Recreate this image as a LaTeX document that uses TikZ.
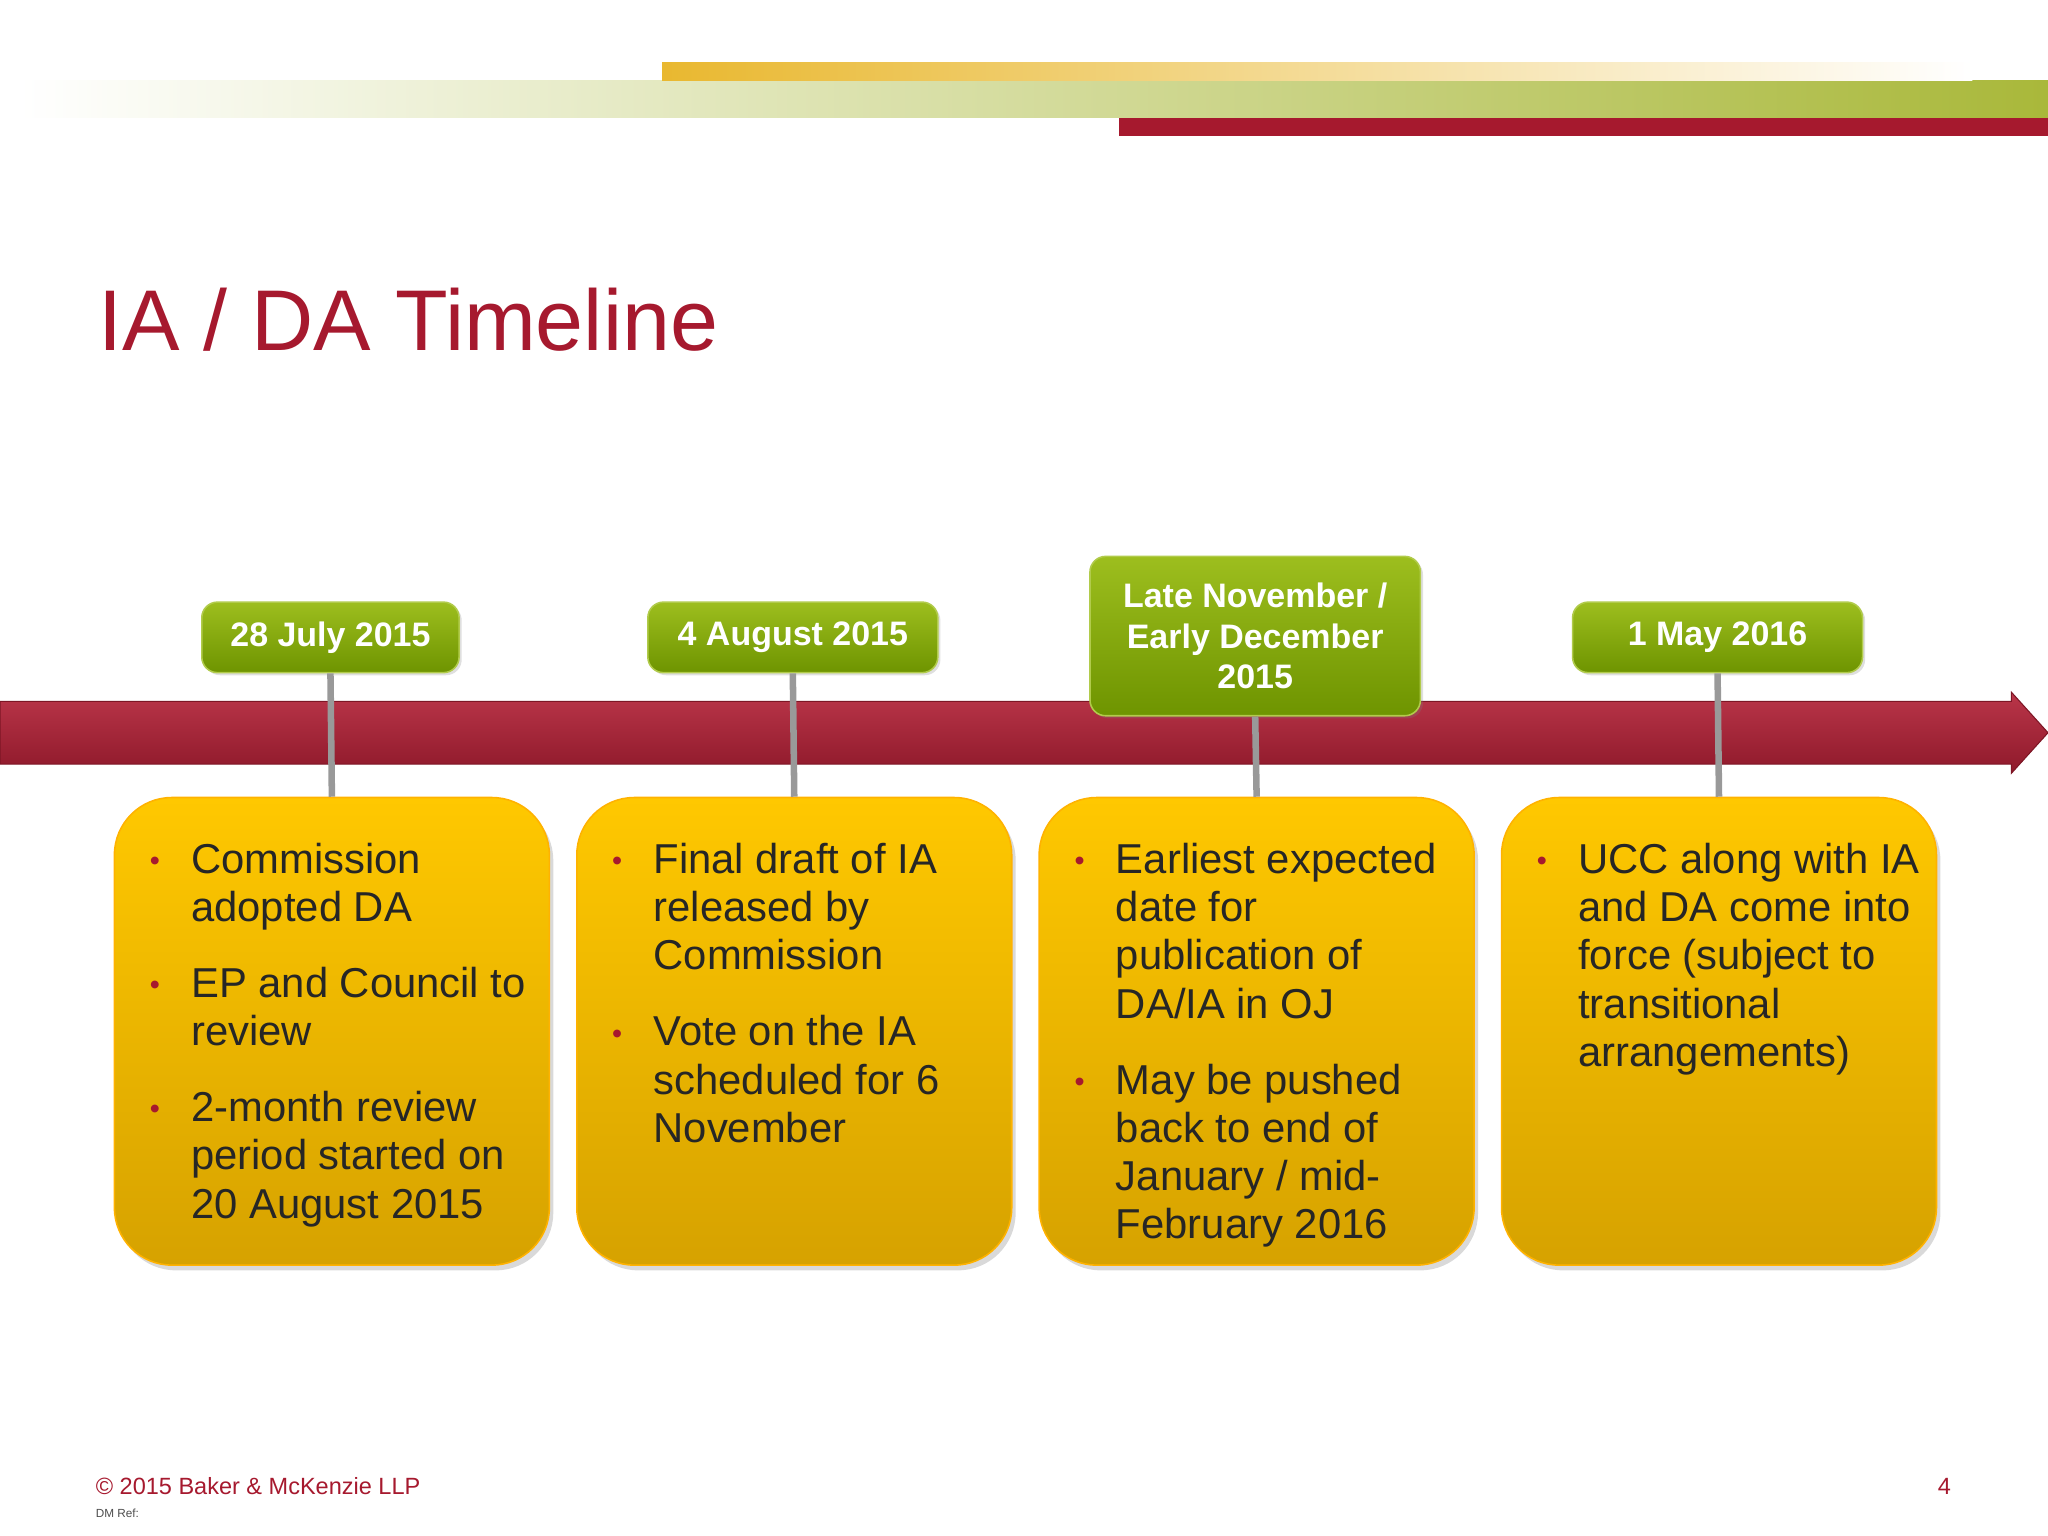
\documentclass[tikz,border=0pt]{standalone}
\usepackage{fontspec}
\setmainfont{Liberation Sans}
\usetikzlibrary{shadows,fadings}
\definecolor{dred}{HTML}{A6192E}
\definecolor{bred}{HTML}{B21F35}
\definecolor{olive}{HTML}{A9B83A}
\definecolor{gold}{HTML}{E9B830}
\definecolor{gtop}{HTML}{9DBE1E}
\definecolor{gbot}{HTML}{6E9400}
\definecolor{ytop}{HTML}{FFC800}
\definecolor{ybot}{HTML}{D6A200}
\tikzset{
 datebox/.style={rounded corners=6pt,top color=gtop,bottom color=gbot,draw=gtop!80!white,line width=0.6pt,
   text=white,font=\fontsize{13}{15.5}\selectfont\bfseries,align=center,drop shadow={opacity=0.25,shadow xshift=1pt,shadow yshift=-1pt}},
 infobox/.style={rounded corners=22pt,top color=ytop,bottom color=ybot,draw=ytop!70!orange,line width=0.6pt,
   drop shadow={opacity=0.3,shadow xshift=1.5pt,shadow yshift=-2pt}},
 stem/.style={draw=gray!80,line width=2.5pt},
 itemtext/.style={anchor=north west,align=left,text=black!85,font=\fontsize{16}{18.5}\selectfont,inner sep=0pt}
}
\newcommand{\bl}{\leavevmode\llap{\textcolor{dred}{\fontsize{11}{11}\selectfont\raisebox{1pt}{•}}\hspace{12pt}}}
\begin{document}
\begin{tikzpicture}[x=0.5pt,y=-0.5pt]
\useasboundingbox (0,0) rectangle (1568,1176);
% header bars
\shade[left color=white,right color=olive] (15,62) rectangle (1568,90);
\shade[left color=gold,right color=white] (507,48) rectangle (1510,62);
\fill[dred] (857,90) rectangle (1568,104);
% title
\node[anchor=base west,inner sep=0pt,text=dred,font=\fontsize{33}{36}\selectfont] (title) at (75,268) {IA / DA Timeline};
% arrow
\shade[top color=bred!90!white,bottom color=bred!80!black,draw=bred!70!black]
 (0,537) -- (1540,537) -- (1540,530) -- (1568,561) -- (1540,592) -- (1540,585) -- (0,585) -- cycle;
% boxes
\foreach \x/\n in {87/b1,441/b2,795/b3,1149/b4}{
 \node[infobox,minimum width=166.5pt,minimum height=179pt,anchor=north west,inner sep=0pt] (\n) at (\x,610) {};
}
\node[datebox,minimum width=98.5pt,minimum height=27pt] (d1) at (253,488) {28 July 2015};
\node[datebox,minimum width=111pt,minimum height=27pt] (d2) at (607,488) {4 August 2015};
\node[datebox,minimum width=126.5pt,minimum height=61pt] (d3) at (961,487) {Late November /\\Early December\\2015};
\node[datebox,minimum width=111pt,minimum height=27pt] (d4) at (1315,488) {1 May 2016};
\foreach \i in {1,2,3,4}{\draw[stem] (d\i.south) -- (b\i.north);}
% texts
\node[itemtext] (t1) at (146,645) {\bl Commission\\adopted DA\\[10.5pt]\bl EP and Council to\\review\\[10.5pt]\bl 2-month review\\period started on\\20 August 2015};
\node[itemtext] (t2) at (500,645) {\bl Final draft of IA\\released by\\Commission\\[10.5pt]\bl Vote on the IA\\scheduled for 6\\November};
\node[itemtext] (t3) at (854,645) {\bl Earliest expected\\date for\\publication of\\DA/IA in OJ\\[10.5pt]\bl May be pushed\\back to end of\\January / mid-\\February 2016};
\node[itemtext] (t4) at (1208,645) {\bl UCC along with IA\\and DA come into\\force (subject to\\transitional\\arrangements)};
% footer
\node[anchor=base west,inner sep=0pt,text=dred,font=\fontsize{9}{10}\selectfont] (ft) at (73,1144) {© 2015 Baker \& McKenzie LLP};
\node[anchor=base west,inner sep=0pt,text=black!70,font=\fontsize{4.5}{5}\selectfont] (dm) at (73,1162) {DM Ref:};
\node[anchor=base east,inner sep=0pt,text=dred,font=\fontsize{9}{10}\selectfont] (pg) at (1494,1144) {4};
\end{tikzpicture}
\end{document}
